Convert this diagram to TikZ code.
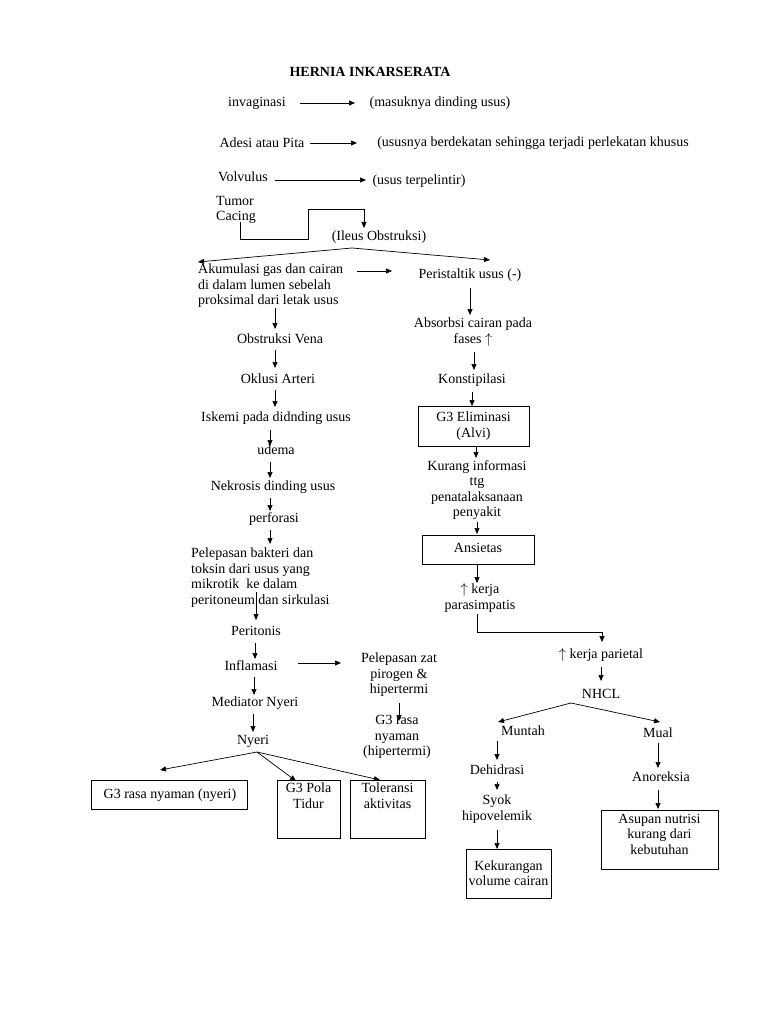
\documentclass[tikz,border=0pt]{standalone}
\usepackage{fontspec}
\setmainfont{Liberation Serif}
\usetikzlibrary{arrows.meta}
\begin{document}
\begin{tikzpicture}[x=1pt,y=-1pt,
  every node/.style={font=\fontsize{14}{15.5}\selectfont,inner sep=2pt,align=center},
  box/.style={draw,line width=0.7pt,anchor=north west,minimum width=#1,inner sep=3pt},
  ar/.style={-{Triangle[length=6pt,width=5pt]},line width=0.7pt},
  ln/.style={line width=0.7pt}]
\useasboundingbox (0,0) rectangle (768,1024);
\node (title) at (370,72) {\textbf{HERNIA INKARSERATA}};
\node (inv) at (257,103) {invaginasi};
\node (inv2) at (440,103) {(masuknya dinding usus)};
\draw[ar] (300,103) -- (355,103);
\node (ad) at (262,143) {Adesi atau Pita};
\node (ad2) at (533,143) {(ususnya berdekatan sehingga terjadi perlekatan khusus};
\draw[ar] (310,143) -- (357,143);
\node (vol) at (243,177) {Volvulus};
\node (vol2) at (419,181) {(usus terpelintir)};
\draw[ar] (275,180) -- (366,180);
\node[anchor=west,align=left] (tc) at (214,210) {Tumor\\Cacing};
\node (il) at (379,237) {(Ileus Obstruksi)};
\draw[ar] (240,222) |- (308,239) |- (364,209) -- (364,228);
\coordinate (split) at (352,248);
\node[anchor=north west,align=left] (ak) at (196,262) {Akumulasi gas dan cairan\\di dalam lumen sebelah\\proksimal dari letak usus};
\node (per) at (470,275) {Peristaltik usus (-)};
\draw[ar] (split) -- (198,262);
\draw[ar] (split) -- (490,260);
\draw[ar] (357,271) -- (392,271);
% left chain
\node (ov) at (280,339) {Obstruksi Vena};
\node (oa) at (278,379) {Oklusi Arteri};
\node (isk) at (276,418) {Iskemi pada didnding usus};
\node (ud) at (276,450) {udema};
\node (nek) at (273,487) {Nekrosis dinding usus};
\node (perf) at (274,519) {perforasi};
\node[anchor=north west,align=left] (pel) at (189,546) {Pelepasan bakteri dan\\toksin dari usus yang\\mikrotik\ \ ke dalam\\peritoneum dan sirkulasi};
\node (pt) at (256,631) {Peritonis};
\node (inf) at (251,666) {Inflamasi};
\node (med) at (255,703) {Mediator Nyeri};
\node (ny) at (253,741) {Nyeri};
\node (pz) at (399,675) {Pelepasan zat\\pirogen \&\\hipertermi};
\node (g3h) at (397,737) {G3 rasa\\nyaman\\(hipertermi)};
\draw[ar] (275,308) -- (275,329);
\draw[ar] (275,350) -- (275,368);
\draw[ar] (275,390) -- (275,407);
\draw[ar] (270,430) -- (270,446);
\draw[ar] (270,462) -- (270,478);
\draw[ar] (270,498) -- (270,511);
\draw[ar] (270,530) -- (270,544);
\draw[ar] (256,592) -- (256,620);
\draw[ar] (255,643) -- (255,659);
\draw[ar] (298,663) -- (341,663);
\draw[ar] (399,703) -- (399,721);
\draw[ar] (254,677) -- (254,695);
\draw[ar] (253,714) -- (253,732);
\node[box=156pt,minimum height=29pt] (b1) at (91,780) {};
\node at (170,795) {G3 rasa nyaman (nyeri)};
\node[box=63pt,minimum height=58pt] (b2) at (277,780) {};
\node[anchor=north] at (308.5,781) {G3 Pola\\Tidur};
\node[box=75pt,minimum height=58pt] (b3) at (350,780) {};
\node[anchor=north] at (387.5,781) {Toleransi\\aktivitas};
\coordinate (nyb) at (257,752);
\draw[ar] (nyb) -- (160,770);
\draw[ar] (nyb) -- (296,781);
\draw[ar] (nyb) -- (380,780);
% right chain
\node (abs) at (473,332) {Absorbsi cairan pada\\fases $\uparrow$};
\node (kon) at (472,380) {Konstipilasi};
\node[box=111pt,minimum height=40pt] (el) at (418,406) {};
\node at (473.5,426) {G3 Eliminasi\\(Alvi)};
\node (ki) at (477,490) {Kurang informasi\\ttg\\penatalaksanaan\\penyakit};
\node[box=112pt,minimum height=29pt] (an) at (422,535) {};
\node at (478,548) {Ansietas};
\node (kp) at (480,598) {$\uparrow$ kerja\\parasimpatis};
\node (kpa) at (601,655) {$\uparrow$ kerja parietal};
\node (nh) at (601,694) {NHCL};
\node (mu) at (523,731) {Muntah};
\node (ma) at (658,733) {Mual};
\node (de) at (497,770) {Dehidrasi};
\node (sy) at (497,809) {Syok\\hipovelemik};
\node[box=85pt,minimum height=49pt] (kv) at (466,849) {};
\node at (508.5,873) {Kekurangan\\volume cairan};
\node (ano) at (661,777) {Anoreksia};
\node[box=117pt,minimum height=59pt] (as) at (601,810) {};
\node[anchor=north] at (659.5,812) {Asupan nutrisi\\kurang dari\\kebutuhan};
\draw[ar] (470,288) -- (470,315);
\draw[ar] (474,352) -- (474,370);
\draw[ar] (472,392) -- (472,406);
\draw[ar] (476,446) -- (476,458);
\draw[ar] (477,522) -- (477,534);
\draw[ar] (477,564) -- (477,583);
\draw[ar] (477,614) |- (602,632) -- (602,642);
\draw[ar] (601,667) -- (601,681);
\coordinate (nhb) at (571,703);
\draw[ar] (nhb) -- (498,722);
\draw[ar] (nhb) -- (660,722);
\draw[ar] (497,741) -- (497,760);
\draw[ar] (497,782) -- (497,790);
\draw[ar] (497,830) -- (497,849);
\draw[ar] (658,743) -- (658,768);
\draw[ar] (658,790) -- (658,809);
\end{tikzpicture}
\end{document}
